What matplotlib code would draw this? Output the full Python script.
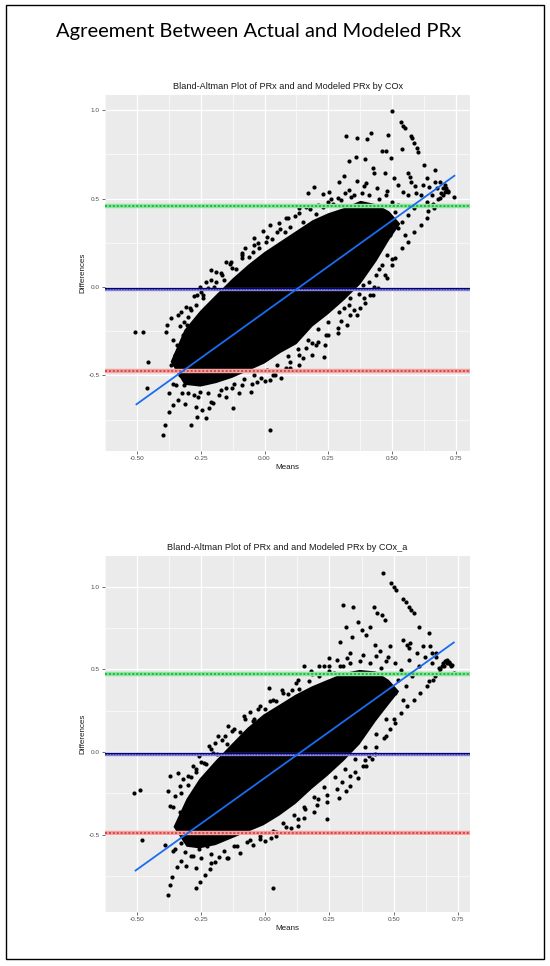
import matplotlib
matplotlib.use('Agg')
import matplotlib.pyplot as plt
from matplotlib.patches import Rectangle
import numpy as np

# ---- data ----
# panel 1: COx  (dense, solid-black part of the cloud)
cox_core_x = [-0.37, -0.316, -0.253, -0.191, -0.128, -0.065, -0.003, 0.06, 0.123, 0.186, 0.248, 0.311, 0.374, 0.437, 0.487, 0.53]
cox_core_lo = [-0.42, -0.55, -0.56, -0.54, -0.51, -0.47, -0.43, -0.37, -0.32, -0.22, -0.15, -0.07, 0.02, 0.15, 0.27, 0.36]
cox_core_hi = [-0.42, -0.24, -0.13, -0.04, 0.05, 0.13, 0.20, 0.26, 0.32, 0.38, 0.42, 0.45, 0.49, 0.47, 0.43, 0.36]

# points along the edge of the dense part
cox_edge_x = [-0.30, -0.27, -0.24, -0.20, -0.16, -0.11, -0.06, -0.02, 0.03, 0.08, 0.10, 0.15, 0.20,
              0.23, 0.27, 0.30, 0.34, 0.38, 0.41, 0.45,
              -0.33, -0.30, -0.26, -0.22, -0.17, -0.12, -0.08, -0.04, 0.01, 0.05, 0.09, 0.13, 0.17,
              0.21, 0.25, 0.29, 0.33, 0.37, 0.41, 0.45, 0.48,
              0.70, 0.71, 0.72, 0.69, 0.70, 0.68, 0.66, 0.64,
              -0.36, -0.33, -0.29, -0.25, -0.21, -0.17, -0.13, -0.09, -0.04, 0.01, 0.06, 0.12, 0.18,
              0.26, 0.33, 0.39, 0.44, 0.48,
              -0.36, -0.31, -0.27, -0.21, -0.15, -0.10, -0.05, 0.00, 0.04, 0.10, 0.15, 0.20, 0.24,
              0.30, 0.35, 0.39, 0.43, 0.47, 0.50]
cox_edge_y = [-0.17, -0.10, -0.06, 0.00, 0.04, 0.10, 0.17, 0.22, 0.27, 0.31, 0.34, 0.37, 0.41,
              0.45, 0.47, 0.49, 0.51, 0.53, 0.52, 0.50,
              -0.50, -0.60, -0.62, -0.60, -0.58, -0.55, -0.52, -0.50, -0.47, -0.44, -0.39, -0.35, -0.30,
              -0.24, -0.20, -0.14, -0.10, -0.04, 0.03, 0.10, 0.18,
              0.56, 0.55, 0.54, 0.53, 0.52, 0.50, 0.47, 0.43,
              -0.30, -0.22, -0.13, -0.03, 0.04, 0.08, 0.14, 0.19, 0.24, 0.28, 0.33, 0.40, 0.44,
              0.50, 0.55, 0.57, 0.56, 0.54,
              -0.55, -0.66, -0.68, -0.65, -0.62, -0.60, -0.55, -0.53, -0.50, -0.46, -0.40, -0.33, -0.27,
              -0.19, -0.13, -0.06, 0.00, 0.07, 0.16]

# scattered single points
cox_x = [0.50, 0.533, 0.543, 0.549, 0.572, 0.577, 0.587, 0.597, 0.600, 0.321, 0.364, 0.419, 0.40,
         0.482, 0.462, 0.474, 0.497, 0.537, 0.358, 0.332, 0.392, 0.426, 0.43, 0.472, 0.311, 0.361,
         0.399, 0.29, 0.192, 0.171, 0.23, 0.254, 0.317, 0.349, 0.562, 0.568, 0.575, 0.59, 0.625,
         0.668, 0.637, 0.687, 0.706, 0.712, 0.718, 0.744, 0.506, 0.524, 0.543,
         0.499, 0.512, 0.537, 0.562, 0.587, 0.612, 0.637, 0.662, 0.687, 0.706, 0.478,
         -0.21, -0.134, -0.087, -0.025, -0.006, 0.056, 0.092, 0.135, 0.163,
         -0.253, -0.275, -0.309, -0.341, -0.367, -0.382, -0.388, -0.302, -0.321, -0.342, -0.352,
         -0.365, -0.29, -0.507, -0.476, -0.457, -0.461,
         -0.398, -0.389, -0.373, -0.36, -0.341, -0.322, -0.316, -0.297, -0.29, -0.266, -0.247,
         -0.228, -0.216, -0.201, -0.178, -0.153, -0.125, -0.053, -0.015, 0.023, 0.066, 0.023,
         -0.373, -0.348, -0.278, -0.253,
         0.233, 0.186, 0.248, 0.286, 0.324, 0.361, 0.392, 0.424, 0.443, 0.135, 0.098, 0.161,
         0.211, 0.311, 0.336, 0.386, 0.437, 0.462,
         0.048, 0.004, -0.046, -0.09, -0.128, -0.166, -0.191, -0.222, -0.241,
         0.474, 0.499, 0.524, 0.512, 0.537, 0.562, 0.587, 0.612, 0.637, 0.656, 0.675, 0.524,
         0.550, 0.493, 0.474, 0.455, 0.562, 0.593, 0.619, 0.644, 0.669,
         0.211, 0.248, 0.286, 0.136, 0.085, 0.023, -0.04, -0.078, -0.153, -0.191, -0.228, -0.266,
         -0.291, -0.316, -0.329,
         -0.09, -0.128, -0.028, 0.035, 0.085, 0.136, 0.186, 0.236, 0.286, 0.336, 0.374, 0.412]
cox_y = [0.996, 0.934, 0.911, 0.896, 0.855, 0.840, 0.812, 0.787, 0.765, 0.855, 0.840, 0.872, 0.836,
         0.859, 0.768, 0.768, 0.727, 0.778, 0.736, 0.714, 0.723, 0.670, 0.642, 0.646, 0.627, 0.599,
         0.589, 0.591, 0.563, 0.529, 0.524, 0.539, 0.529, 0.520, 0.642, 0.623, 0.591, 0.572, 0.689,
         0.661, 0.614, 0.595, 0.576, 0.557, 0.539, 0.510, 0.614, 0.576, 0.539,
         0.124, 0.162, 0.218, 0.256, 0.313, 0.350, 0.388, 0.444, 0.501, 0.539, 0.053,
         0.096, 0.130, 0.181, 0.247, 0.316, 0.360, 0.392, 0.416, 0.454,
         0.002, -0.049, -0.111, -0.158, -0.173, -0.215, -0.256, -0.215, -0.271, -0.328, -0.384,
         -0.441, -0.365, -0.252, -0.256, -0.422, -0.573,
         -0.836, -0.780, -0.704, -0.667, -0.638, -0.601, -0.554, -0.535, -0.780, -0.733, -0.695,
         -0.742, -0.686, -0.657, -0.610, -0.573, -0.682, -0.591, -0.516, -0.525, -0.516, -0.808,
         -0.601, -0.554, -0.610, -0.591,
         -0.397, -0.318, -0.271, -0.262, -0.215, -0.158, -0.092, -0.045, -0.008, -0.384, -0.422, -0.347,
         -0.309, -0.121, -0.064, 0.011, 0.068, 0.124,
         0.313, 0.256, 0.200, 0.162, 0.105, 0.068, 0.030, -0.008, -0.045,
         0.520, 0.482, 0.463, 0.426, 0.369, 0.407, 0.444, 0.520, 0.482, 0.520, 0.557, 0.331,
         0.294, 0.294, 0.369, 0.426, 0.520, 0.529, 0.576, 0.567, 0.595,
         0.463, 0.482, 0.501, 0.444, 0.388, 0.350, 0.275, 0.218, 0.143, 0.087, 0.030, -0.045,
         -0.121, -0.196, -0.139,
         -0.554, -0.573, -0.535, -0.497, -0.460, -0.441, -0.384, -0.328, -0.234, -0.158, -0.121, -0.045]
cox_fit_x = [-0.502, 0.744]
cox_fit_y = [-0.663, 0.629]
cox_upper, cox_mean, cox_lower = 0.459, -0.004, -0.475

# panel 2: COx_a
coxa_core_x = [-0.36, -0.309, -0.259, -0.196, -0.134, -0.071, -0.009, 0.054, 0.116, 0.179, 0.241, 0.304, 0.366, 0.429, 0.479, 0.52]
coxa_core_lo = [-0.45, -0.57, -0.58, -0.56, -0.52, -0.48, -0.44, -0.38, -0.31, -0.22, -0.14, -0.05, 0.05, 0.19, 0.29, 0.37]
coxa_core_hi = [-0.45, -0.28, -0.16, -0.05, 0.05, 0.15, 0.23, 0.29, 0.35, 0.40, 0.44, 0.48, 0.50, 0.49, 0.44, 0.37]

coxa_edge_x = [-0.30, -0.27, -0.23, -0.19, -0.15, -0.10, -0.05, 0.00, 0.04, 0.09, 0.13, 0.17, 0.21,
               0.25, 0.29, 0.33, 0.37, 0.41, 0.45,
               -0.33, -0.29, -0.25, -0.21, -0.16, -0.11, -0.06, -0.02, 0.03, 0.07, 0.11, 0.15, 0.19,
               0.23, 0.27, 0.31, 0.35, 0.39, 0.43, 0.47,
               0.70, 0.71, 0.72, 0.69, 0.68, 0.66, 0.64,
               -0.36, -0.33, -0.29, -0.25, -0.21, -0.17, -0.13, -0.08, -0.03, 0.02, 0.07, 0.12, 0.18,
               0.25, 0.32, 0.38, 0.43, 0.47,
               -0.36, -0.31, -0.27, -0.21, -0.15, -0.10, -0.05, 0.00, 0.04, 0.10, 0.15, 0.20, 0.24,
               0.30, 0.35, 0.39, 0.43, 0.47, 0.50]
coxa_edge_y = [-0.20, -0.12, -0.07, -0.01, 0.05, 0.12, 0.19, 0.26, 0.31, 0.35, 0.38, 0.43, 0.46,
               0.49, 0.52, 0.54, 0.55, 0.54, 0.51,
               -0.55, -0.63, -0.64, -0.62, -0.60, -0.57, -0.53, -0.51, -0.48, -0.43, -0.38, -0.33, -0.27,
               -0.21, -0.15, -0.10, -0.04, 0.03, 0.11, 0.20,
               0.55, 0.54, 0.53, 0.52, 0.50, 0.46, 0.43,
               -0.33, -0.25, -0.15, -0.06, 0.02, 0.07, 0.13, 0.20, 0.26, 0.31, 0.36, 0.42, 0.47,
               0.52, 0.57, 0.59, 0.58, 0.55,
               -0.60, -0.69, -0.70, -0.67, -0.64, -0.61, -0.56, -0.54, -0.51, -0.46, -0.40, -0.32, -0.26,
               -0.18, -0.12, -0.05, 0.03, 0.10, 0.20]

coxa_x = [0.46, 0.491, 0.501, 0.51, 0.538, 0.548, 0.56, 0.569, 0.579, 0.304, 0.341, 0.36, 0.423,
          0.435, 0.454, 0.466, 0.316, 0.339, 0.391, 0.375, 0.41, 0.291, 0.429, 0.448, 0.485,
          0.535, 0.554, 0.56, 0.566, 0.601, 0.639, 0.641, 0.648, 0.666, 0.704, 0.716, 0.729, 0.735,
          0.21, 0.151, 0.248, 0.279, 0.329,
          0.464, 0.485, 0.504, 0.529, 0.554, 0.579, 0.604, 0.629, 0.654, 0.679, 0.698, 0.716,
          0.241, 0.289, 0.316, 0.329, 0.36, 0.391, 0.416, 0.429, 0.154, 0.204, 0.129, 0.079, 0.041,
          0.023, 0.029,
          0.014, 0.104, -0.059, -0.046, -0.121, -0.159, -0.196, -0.203, -0.24, -0.271, -0.303,
          -0.334, -0.371, -0.381, -0.371, -0.334, -0.353, -0.296,
          -0.511, -0.49, -0.48, -0.39,
          -0.381, -0.371, -0.365, -0.346, -0.328, -0.315, -0.271, -0.253, -0.234, -0.215, -0.196,
          -0.181, -0.146, -0.284, -0.259, -0.228, -0.353,
          0.479, 0.504, 0.529, 0.516, 0.548, 0.573, 0.598, 0.623, 0.648, 0.666, 0.504, 0.535,
          0.479, 0.466, 0.448, 0.56, 0.591, 0.616, 0.679, 0.691, 0.71, 0.723,
          0.229, 0.179, 0.129, 0.066, 0.029, -0.021, -0.084, -0.146, -0.184, -0.221, -0.259, -0.284,
          -0.321, -0.34, 0.304, 0.266,
          -0.071, -0.121, -0.021, 0.129, 0.191, 0.241, 0.279, 0.329, 0.379, 0.404]
coxa_y = [1.086, 1.02, 0.996, 0.98, 0.924, 0.91, 0.88, 0.859, 0.839, 0.89, 0.88, 0.789, 0.88,
          0.839, 0.829, 0.799, 0.755, 0.699, 0.709, 0.739, 0.755, 0.663, 0.649, 0.612, 0.639,
          0.679, 0.649, 0.629, 0.659, 0.755, 0.723, 0.643, 0.598, 0.578, 0.548, 0.538, 0.528, 0.478,
          0.518, 0.518, 0.568, 0.558, 0.598,
          0.086, 0.137, 0.177, 0.237, 0.277, 0.317, 0.357, 0.398, 0.438, 0.478, 0.518, 0.542,
          -0.406, -0.281, -0.235, -0.205, -0.155, -0.084, -0.044, -0.014, -0.345, -0.285, -0.406,
          -0.456, -0.486, -0.522, -0.823,
          0.388, 0.378, 0.241, 0.197, 0.137, 0.096, 0.056, -0.004, -0.064, -0.104, -0.145,
          -0.205, -0.145, -0.235, -0.325, -0.365, -0.265, -0.305,
          -0.245, -0.229, -0.53, -0.562,
          -0.867, -0.807, -0.757, -0.697, -0.657, -0.606, -0.821, -0.787, -0.747, -0.707, -0.667,
          -0.637, -0.643, -0.627, -0.586, -0.566, -0.586,
          0.578, 0.538, 0.498, 0.438, 0.398, 0.458, 0.518, 0.578, 0.538, 0.598, 0.357, 0.317,
          0.317, 0.398, 0.458, 0.558, 0.598, 0.639, 0.508, 0.538, 0.558, 0.518,
          0.518, 0.488, 0.438, 0.378, 0.317, 0.277, 0.217, 0.157, 0.096, 0.036, -0.024, -0.084,
          -0.165, -0.124, 0.518, 0.478,
          -0.546, -0.566, -0.526, -0.446, -0.365, -0.305, -0.225, -0.145, -0.084, -0.024]
coxa_fit_x = [-0.506, 0.735]
coxa_fit_y = [-0.717, 0.663]
coxa_upper, coxa_mean, coxa_lower = 0.472, -0.004, -0.490

x_ticks = [-0.50, -0.25, 0.00, 0.25, 0.50, 0.75]
x_labels = ['-0.50', '-0.25', '0.00', '0.25', '0.50', '0.75']
y_ticks = [-0.5, 0.0, 0.5, 1.0]
y_labels = ['-0.5', '0.0', '0.5', '1.0']

plt.rcParams['font.family'] = ['Liberation Sans', 'DejaVu Sans']

fig = plt.figure(figsize=(5.5, 9.66), dpi=100)


def band(ax, y, dark, light):
    ax.axhline(y, color=light, lw=3.2, zorder=4)
    ax.axhline(y, color=dark, lw=1.4, dashes=(1.1, 0.9), zorder=5)


def bland_altman(ax, title, cx, clo, chi, ex, ey, px, py, fx, fy, up, mean, low, xlim, ylim):
    ax.set_facecolor('#EBEBEB')
    for s in ax.spines.values():
        s.set_visible(False)
    ax.set_xlim(xlim)
    ax.set_ylim(ylim)
    ax.set_xticks(x_ticks)
    ax.set_xticklabels(x_labels)
    ax.set_yticks(y_ticks)
    ax.set_yticklabels(y_labels)
    ax.set_xticks([-0.625, -0.375, -0.125, 0.125, 0.375, 0.625], minor=True)
    ax.set_yticks([-0.75, -0.25, 0.25, 0.75], minor=True)
    ax.grid(which='major', color='white', lw=0.9)
    ax.grid(which='minor', color='white', lw=0.45)
    ax.set_axisbelow(True)
    ax.tick_params(which='major', length=2.2, width=0.5, color='#333333',
                   labelsize=4.6, labelcolor='#4d4d4d', pad=1.5)
    ax.tick_params(which='minor', length=0)

    ax.fill_between(cx, clo, chi, color='black', lw=0, zorder=2)
    ax.scatter(ex, ey, s=9, color='black', lw=0, zorder=3)
    ax.scatter(px, py, s=9, color='black', lw=0, zorder=3)

    band(ax, up, '#1fb845', '#8ee39d')
    ax.axhline(mean - 0.008, color='#8a8ad8', lw=2.4, zorder=4)
    ax.axhline(mean - 0.008, color='#3b3bb0', lw=1.0, dashes=(1.1, 0.9), zorder=5)
    ax.axhline(mean, color='#00006e', lw=0.9, zorder=6)
    band(ax, low, '#d94848', '#f2a4a4')

    ax.plot(fx, fy, color='#1a6cf0', lw=1.3, zorder=7)

    ax.set_title(title, fontsize=6.6, color='#1a1a1a', pad=4)
    ax.set_xlabel('Means', fontsize=5.8, color='#1a1a1a', labelpad=2)
    ax.set_ylabel('Differences', fontsize=5.8, color='#1a1a1a', labelpad=2)


ax1 = fig.add_axes([0.191, 0.5331, 0.664, 0.3685])
bland_altman(ax1, 'Bland-Altman Plot of PRx and and Modeled PRx by COx',
             cox_core_x, cox_core_lo, cox_core_hi, cox_edge_x, cox_edge_y, cox_x, cox_y,
             cox_fit_x, cox_fit_y, cox_upper, cox_mean, cox_lower,
             (-0.568, 0.806), (-0.927, 1.085))

ax2 = fig.add_axes([0.191, 0.0559, 0.664, 0.3685])
bland_altman(ax2, 'Bland-Altman Plot of PRx and and Modeled PRx by COx_a',
             coxa_core_x, coxa_core_lo, coxa_core_hi, coxa_edge_x, coxa_edge_y, coxa_x, coxa_y,
             coxa_fit_x, coxa_fit_y, coxa_upper, coxa_mean, coxa_lower,
             (-0.571, 0.799), (-0.968, 1.186))

fig.text(259 / 550, 1 - 32 / 966, 'Agreement Between Actual and Modeled PRx',
         ha='center', va='center', fontsize=14.5, family=['Lato', 'DejaVu Sans'])

fig.patches.append(Rectangle((6 / 550, 1 - 959 / 966), 538 / 550, 954 / 966,
                             transform=fig.transFigure, fill=False, ec='black', lw=1.0))

fig.savefig('out.png', dpi=100, facecolor='white')
